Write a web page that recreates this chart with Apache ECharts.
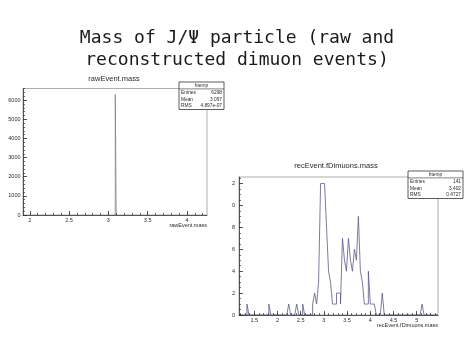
<!DOCTYPE html>
<html><head><meta charset="utf-8">
<script src="https://cdn.jsdelivr.net/npm/echarts@6/dist/echarts.min.js"></script>
<style>
html,body{margin:0;padding:0;background:#fff;width:474px;height:355px;overflow:hidden}
#main{position:absolute;left:0;top:0;width:474px;height:355px}
#rec{position:absolute;left:232px;top:155px;width:242px;height:200px;background:#fff}
</style></head><body>
<div id="main"></div><div id="rec"></div>
<script>
// ---- text ----
const titleLines = ['Mass of J/Ψ particle (raw and', 'reconstructed dimuon events)'];
const statsLabels = ['Entries', 'Mean', 'RMS'];
const statsName = 'htemp';

// ---- raw event histogram ----
const rawTitle = 'rawEvent.mass';
const rawRange = [1.914, 4.255];
const rawYMax = 6613;
const rawBinLow = [3.088];
const rawBinWidth = 0.012;
const rawCounts = [6298];
const rawXLabels = [2, 2.5, 3, 3.5, 4];
const rawYLabels = [0, 1000, 2000, 3000, 4000, 5000, 6000];
const rawStatsValues = ['6298', '3.097', '4.897e-07'];

// ---- reconstructed dimuon histogram (100 bins) ----
const recTitle = 'recEvent.fDimuons.mass';
const recRange = [1.17, 5.46];
const recYMax = 12.6;
const recBinWidth = 0.0429;
const recCounts = [
  0,0,0,0,1,0,0,0,0,0,
  0,0,0,0,0,1,0,0,0,0,
  0,0,0,0,0,1,0,0,0,1,
  0,0,1,0,0,0,0,1,2,1,
  3,12,12,12,8,4,3,1,1,2,
  2,1,7,5,4,7,5,4,6,5,
  9,4,3,1,1,4,1,1,1,0,
  0,0,2,0,0,0,0,0,0,0,
  0,0,0,0,0,0,0,0,0,0,
  0,0,1,0,0,0,0,0,0,0
];
const recXLabels = [1.5, 2, 2.5, 3, 3.5, 4, 4.5, 5];
const recYLabels = [0, 2, 4, 6, 8, 10, 12];
const recStatsValues = ['141', '3.402', '0.4727'];

// ---- helpers ----
const FONT = 'Liberation Sans, Arial, sans-serif';
const INK = '#2a2a2a';
function minorTicks(lo, hi, step) {
  const out = [];
  for (let k = Math.ceil(lo / step - 1e-9); k * step <= hi + 1e-9; k++) out.push(+(k * step).toFixed(4));
  return out;
}
function outline(lows, width, counts) {
  const pts = [[lows[0], 0]];
  counts.forEach((c, i) => { pts.push([lows[i], c]); pts.push([lows[i] + width, c]); });
  pts.push([lows[lows.length - 1] + width, 0]);
  return pts;
}
function axisPair(pos, range, labels, minor, majLen, minLen, margin) {
  const base = { type: 'value', min: range[0], max: range[1], position: pos, splitLine: { show: false }, z: 5 };
  const major = Object.assign({}, base, {
    axisLine: { show: true, lineStyle: { color: '#333', width: 0.8 } },
    axisTick: { show: true, inside: true, length: majLen, customValues: labels, lineStyle: { color: '#333', width: 0.8 } },
    axisLabel: { show: true, customValues: labels, fontSize: 5.5, color: INK, margin: margin, fontFamily: FONT, formatter: v => String(v) }
  });
  const min = Object.assign({}, base, {
    axisLine: { show: false },
    axisTick: { show: true, inside: true, length: minLen, customValues: minor, lineStyle: { color: '#333', width: 0.7 } },
    axisLabel: { show: false }
  });
  return [major, min];
}
function statsBox(x, y, w, h, values) {
  const children = [
    { type: 'rect', shape: { x: x, y: y, width: w, height: h }, style: { fill: '#fff', stroke: '#333', lineWidth: 0.8 } },
    { type: 'line', shape: { x1: x, y1: y + h * 0.25, x2: x + w, y2: y + h * 0.25 }, style: { stroke: '#333', lineWidth: 0.6 } },
    { type: 'text', style: { x: x + w / 2, y: y + h * 0.125, text: statsName, fontSize: 4.8, fontFamily: FONT, fill: INK, align: 'center', verticalAlign: 'middle' } }
  ];
  statsLabels.forEach((lab, i) => {
    const cy = y + h * (0.25 + 0.125 + 0.25 * i);
    children.push({ type: 'text', style: { x: x + 2, y: cy, text: lab, fontSize: 4.8, fontFamily: FONT, fill: INK, align: 'left', verticalAlign: 'middle' } });
    children.push({ type: 'text', style: { x: x + w - 2, y: cy, text: values[i], fontSize: 4.8, fontFamily: FONT, fill: INK, align: 'right', verticalAlign: 'middle' } });
  });
  return { type: 'group', children: children, z: 20 };
}

// ---- main chart: title + raw histogram ----
const mainChart = echarts.init(document.getElementById('main'), null, { renderer: 'canvas' });
mainChart.setOption({
  animation: false,
  title: { text: titleLines.join('\n'), left: 'center', top: 22, textStyle: { fontFamily: 'DejaVu Sans Mono', fontSize: 18, fontWeight: 'normal', lineHeight: 22, color: '#1a1a1a' } },
  grid: { show: true, borderColor: '#999', borderWidth: 0.8, backgroundColor: 'transparent', left: 23, top: 88.5, width: 184, height: 126.5, outerBoundsMode: 'none', containLabel: false },
  xAxis: axisPair('bottom', rawRange, rawXLabels, minorTicks(rawRange[0], rawRange[1], 0.1), 4, 2, 2),
  yAxis: axisPair('left', [0, rawYMax], rawYLabels, minorTicks(0, rawYMax, 200), 4, 2, 2.5),
  series: [{ type: 'line', xAxisIndex: 0, yAxisIndex: 0, data: outline(rawBinLow, rawBinWidth, rawCounts), symbol: 'none', lineStyle: { color: '#777', width: 0.7 }, clip: true, z: 3 }],
  graphic: [
    { type: 'text', style: { x: 114, y: 79, text: rawTitle, fontSize: 7.5, fontFamily: FONT, fill: INK, align: 'center', verticalAlign: 'middle' } },
    { type: 'text', style: { x: 207, y: 225, text: rawTitle, fontSize: 5.5, fontFamily: FONT, fill: INK, align: 'right', verticalAlign: 'middle' } },
    statsBox(179, 82, 45, 27.5, rawStatsValues)
  ]
});

// ---- reconstructed histogram chart ----
const recChart = echarts.init(document.getElementById('rec'), null, { renderer: 'canvas' });
const recLows = recCounts.map((c, i) => recRange[0] + i * recBinWidth);
recChart.setOption({
  animation: false,
  grid: { show: true, borderColor: '#999', borderWidth: 0.8, backgroundColor: 'transparent', left: 7, top: 22, width: 199, height: 138, outerBoundsMode: 'none', containLabel: false },
  xAxis: axisPair('bottom', recRange, recXLabels, minorTicks(recRange[0], recRange[1], 0.1), 4, 2, 2),
  yAxis: axisPair('left', [0, recYMax], recYLabels, minorTicks(0, recYMax, 0.5), 4, 2, 4),
  series: [{ type: 'line', xAxisIndex: 0, yAxisIndex: 0, data: outline(recLows, recBinWidth, recCounts), symbol: 'none', lineStyle: { color: '#5a5a86', width: 0.8 }, clip: true, z: 3 }],
  graphic: [
    { type: 'text', style: { x: 104, y: 11, text: recTitle, fontSize: 7.5, fontFamily: FONT, fill: INK, align: 'center', verticalAlign: 'middle' } },
    { type: 'text', style: { x: 206, y: 170.5, text: recTitle, fontSize: 5.5, fontFamily: FONT, fill: INK, align: 'right', verticalAlign: 'middle' } },
    statsBox(176, 16, 55, 27.5, recStatsValues)
  ]
});
</script>
</body></html>
